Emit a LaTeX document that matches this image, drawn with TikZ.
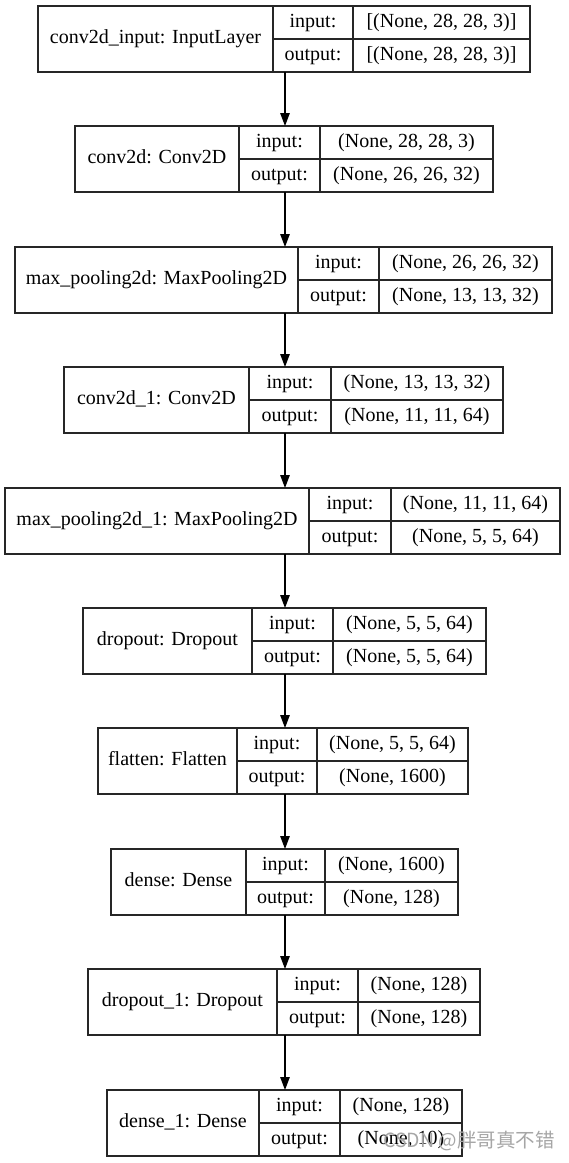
\documentclass[tikz,border=0pt]{standalone}
\usepackage{fontspec}
\setmainfont{Liberation Serif}
\newfontfamily\cjkfont{Noto Sans CJK SC}
\usetikzlibrary{arrows.meta}
\tikzset{
  cell/.style={draw=black!85, line width=1.1pt, inner sep=0pt, outer sep=0pt,
    font=\fontsize{20}{22}\selectfont, text height=13pt, text depth=4pt, anchor=center},
  frame/.style={draw=black!85, line width=1.3pt, inner sep=0pt, outer sep=0pt, anchor=center},
  flow/.style={line width=1.2pt, -{Triangle[length=13pt,width=9.5pt]}},
  wmark/.style={font=\cjkfont\fontsize{19.5}{22}\selectfont, text=black!35, inner sep=0pt}
}
% #1 name, #2 top, #3 left, #4 divider1, #5 divider2, #6 right, #7 label, #8 input, #9 output
\newcommand{\layerbox}[9]{%
  \pgfmathsetmacro{\wA}{#6-#3}%
  \pgfmathsetmacro{\wL}{#4-#3}%
  \pgfmathsetmacro{\wK}{#5-#4}%
  \pgfmathsetmacro{\wV}{#6-#5}%
  \node[frame, minimum width=\wA pt, minimum height=66pt] (#1) at ({(#3+#6)/2},{#2+33}) {};
  \node[cell, minimum width=\wL pt, minimum height=66pt] (#1-name) at ({(#3+#4)/2},{#2+33}) {#7};
  \node[cell, minimum width=\wK pt, minimum height=33pt] (#1-ik) at ({(#4+#5)/2},{#2+16.5}) {input:};
  \node[cell, minimum width=\wK pt, minimum height=33pt] (#1-ok) at ({(#4+#5)/2},{#2+49.5}) {output:};
  \node[cell, minimum width=\wV pt, minimum height=33pt] (#1-iv) at ({(#5+#6)/2},{#2+16.5}) {#8};
  \node[cell, minimum width=\wV pt, minimum height=33pt] (#1-ov) at ({(#5+#6)/2},{#2+49.5}) {#9};
}
\begin{document}
\begin{tikzpicture}[x=1pt, y=-1pt]
\fill[white] (0,0) rectangle (569,1163);
\useasboundingbox (0,0) rectangle (569,1163);
\coordinate (ax) at (285,0);
\layerbox{L1}{6}{38}{273}{353}{530}{conv2d\_input: InputLayer}{[(None, 28, 28, 3)]}{[(None, 28, 28, 3)]}
\layerbox{L2}{126}{75}{239}{320}{493}{conv2d: Conv2D}{(None, 28, 28, 3)}{(None, 26, 26, 32)}
\layerbox{L3}{247}{15}{298}{379}{552}{max\_pooling2d: MaxPooling2D}{(None, 26, 26, 32)}{(None, 13, 13, 32)}
\layerbox{L4}{367}{64}{249}{331}{503}{conv2d\_1: Conv2D}{(None, 13, 13, 32)}{(None, 11, 11, 64)}
\layerbox{L5}{488}{5}{309}{391}{560}{max\_pooling2d\_1: MaxPooling2D}{(None, 11, 11, 64)}{(None, 5, 5, 64)}
\layerbox{L6}{608}{83}{252}{333}{486}{dropout: Dropout}{(None, 5, 5, 64)}{(None, 5, 5, 64)}
\layerbox{L7}{728}{98}{237}{317}{468}{flatten: Flatten}{(None, 5, 5, 64)}{(None, 1600)}
\layerbox{L8}{849}{111}{246}{325}{458}{dense: Dense}{(None, 1600)}{(None, 128)}
\layerbox{L9}{969}{88}{277}{358}{480}{dropout\_1: Dropout}{(None, 128)}{(None, 128)}
\layerbox{L10}{1090}{107}{259}{340}{462}{dense\_1: Dense}{(None, 128)}{(None, 10)}
\foreach \a/\b in {L1/L2,L2/L3,L3/L4,L4/L5,L5/L6,L6/L7,L7/L8,L8/L9,L9/L10}
  \draw[flow] (\a.south -| ax) -- (\b.north -| ax);
\node[wmark, anchor=west] (wm) at (383,1141) {CSDN @胖哥真不错};
\end{tikzpicture}
\end{document}
